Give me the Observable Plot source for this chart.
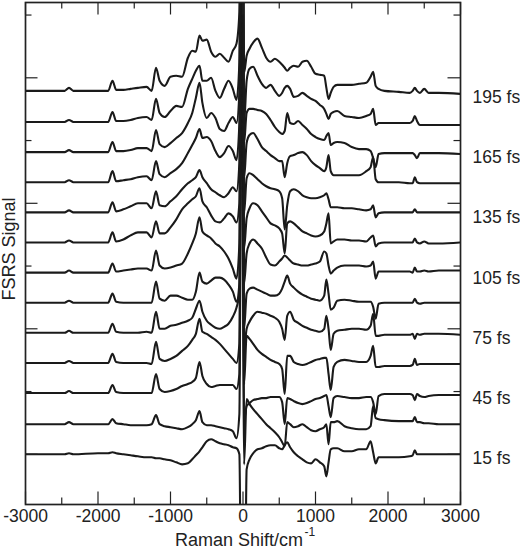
<!DOCTYPE html>
<html>
<head>
<meta charset="utf-8">
<script src="https://cdn.jsdelivr.net/npm/d3@7"></script>
<script src="https://cdn.jsdelivr.net/npm/@observablehq/plot@0.6"></script>
<style>
  html, body { margin: 0; padding: 0; background: #fff; }
  #chart svg { display: block; }
</style>
</head>
<body>
<div id="chart"></div>
<script>
// Raman shift grid (cm^-1) shared by all spectra
const shift = [-3000,-2600,-2460,-2400,-2340,-2000,-1860,-1800,-1750,-1650,
  -1550,-1450,-1330,-1260,-1200,-1150,-1080,-1000,-920,-840,
  -760,-700,-650,-600,-560,-500,-440,-380,-320,-260,
  -200,-140,-90,-50,-15,15,50,90,140,200,
  260,320,380,440,500,540,575,610,650,700,
  760,820,880,940,1000,1060,1120,1150,1180,1210,
  1250,1300,1400,1500,1600,1700,1760,1795,1830,1870,
  1950,2150,2300,2340,2370,2400,2440,2500,2560,2700,
  3000];

// time delays (fs), bottom to top
const delays = [15,30,45,60,75,90,105,120,135,150,165,180,195];
const labeled = [15,45,75,105,135,165,195];

// FSRS signal of each delay (arbitrary units)
const s15 = [0,0,0,1,0,1,1,2,1,0, -1,-2,-3,-3,-4,-4,-5,-6,-8,-10, -9,-5,-1,3,7,13,15,13,11,10, 9,7,6,0,-250,-250,-15,-5,1,5, 6,8,9,9,6,5,9,12,7,2, -2,-5,-8,-9,-5,-8,-12,-22,-8,5, 6,6,3,3,5,5,13,2,-9,-3, -3,-3,-2,-1,4,0,0,0,0,0, 0];
const s30 = [0,0,0,2,0,0,0,5,1,0, -1,-1,-1,0,9,0,-2,-3,-4,-5, -3,0,4,13,2,-1,-1,-2,-3,-4, -5,-7,-14,10,450,-40,25,20,15,10, 5,0,-4,-8,-13,-18,-22,2,0,-3, -2,0,-3,-6,-7,-5,-3,0,-20,2, 2,3,-2,-4,-5,-5,-2,18,6,5, 4,3,3,3,7,2,2,1,1,0, 0];
const s45 = [1,1,1,3,1,1,1,9,2,1, 1,1,1,1,20,5,2,3,5,8, 10,12,16,32,18,10,7,8,9,9, 9,9,5,20,450,-25,-12,-9,-6,-5, -4,-4,-3,-3,-3,-8,-30,-4,-5,-7, -9,-10,-9,-7,-5,-4,-2,-1,-12,-23, -4,-2,-3,-4,-4,-3,-3,-8,-20,-2, 0,0,0,-1,-6,0,-2,-3,-2,-1, -1];
const s60 = [1,1,1,3,1,1,1,10,2,1, 1,1,1,0,22,5,3,5,8,13, 18,24,30,45,32,30,27,24,20,15, 10,5,1,20,450,-20,28,25,20,14, 10,7,4,2,0,-5,-30,8,8,2, 0,-1,0,2,4,5,6,6,-10,-26, -3,2,4,3,2,2,8,18,-3,-3, -2,-2,-2,-1,5,-1,0,0,0,0, 0];
const s75 = [1,1,1,3,1,1,1,10,2,1, 1,1,2,1,22,5,5,8,9,11, 13,16,25,33,22,13,9,6,5,7, 10,17,26,40,450,-15,5,12,18,22, 21,20,18,16,12,5,-6,18,22,14, 11,8,6,4,3,2,5,18,5,-16, 0,3,4,5,5,4,8,20,-2,-2, -1,-1,-1,0,-5,0,-1,0,0,0, -1];
const s90 = [1,1,1,3,1,1,1,10,2,1, 1,1,1,1,22,5,3,8,8,6, 4,4,12,31,22,20,23,26,26,24, 19,12,2,20,450,-25,10,15,16,14, 12,10,8,8,10,15,22,28,20,16, 12,9,7,5,4,3,8,24,10,-6, -4,3,4,3,2,2,2,-3,-15,0, 1,1,1,1,5,1,0,1,1,1, 1];
const s105 = [1,1,1,3,1,1,1,10,2,3, 4,5,5,3,23,8,5,6,8,10, 20,30,40,56,42,38,35,30,27,22, 15,5,-5,30,450,-10,20,30,34,30, 25,16,9,8,12,15,18,16,13,10, 9,8,8,9,10,12,22,20,8,0, 3,6,8,8,8,7,8,12,-5,2, 2,2,2,1,6,2,2,3,2,3, 3];
const s120 = [1,1,1,3,1,1,1,11,2,4, 8,11,11,6,22,10,10,16,24,34, 40,44,47,55,42,36,28,22,21,25, 30,27,21,40,450,-5,25,35,40,38, 32,26,20,18,15,10,-10,20,22,20, 16,12,10,8,7,8,12,20,30,0, 2,4,4,3,3,2,6,8,-3,0, 1,1,1,1,5,1,0,2,0,0, 1];
const s135 = [1,1,1,3,1,1,1,11,2,4, 7,10,10,5,22,8,7,12,17,24, 30,33,36,43,36,30,24,21,18,16, 20,26,22,50,450,0,35,40,38,34, 30,27,25,24,22,15,-16,8,22,24, 22,18,16,15,15,16,18,20,14,6, 6,6,5,5,4,3,4,8,-4,0, 1,1,1,1,4,1,1,1,1,1, 1];
const s150 = [1,1,1,3,1,1,1,12,2,3, 4,6,7,3,22,9,6,10,14,20, 30,38,45,54,45,46,42,32,26,30, 37,32,23,60,450,5,40,48,50,44, 36,32,28,25,22,22,6,20,27,28, 30,31,28,22,18,15,12,16,28,12, 8,8,8,8,8,12,16,26,4,1, 1,1,0,0,6,1,0,0,0,0, 0];
const s165 = [1,1,1,3,1,1,1,11,2,2, 3,5,5,2,23,9,6,10,15,20, 30,40,55,70,50,35,40,35,24,22, 30,36,30,60,450,10,40,44,44,43, 42,39,33,26,21,19,22,40,30,29, 32,28,24,19,16,14,13,17,20,8, 10,11,10,6,4,4,2,-5,-14,-1, 0,0,0,0,-2,-5,0,0,0,0, -1];
const s180 = [1,1,1,3,1,1,1,11,2,2, 3,5,6,3,24,10,6,12,17,16, 34,44,52,57,42,42,45,32,25,34, 42,34,23,60,450,0,42,54,56,47, 39,35,38,32,27,30,35,37,34,26, 27,30,27,24,22,18,14,9,4,9, 11,12,7,6,5,7,9,14,-2,0, 0,0,0,2,7,2,-2,-2,-2,-2, -2];
const s195 = [2,2,2,5,2,2,2,12,3,3, 4,5,6,2,25,12,7,16,17,16, 35,42,41,57,52,53,41,36,39,35, 31,42,49,80,450,20,37,44,50,54, 45,35,31,34,31,28,25,22,25,27, 26,31,32,26,19,18,17,5,-6,0, 6,8,8,8,9,10,16,21,7,4, 2,1,0,2,5,2,0,4,0,0, -1];

const spectra = [s15,s30,s45,s60,s75,s90,s105,s120,s135,s150,s165,s180,s195];
const step = 30; // vertical offset between successive delays

// axis ticks
const xMajor = [-3000,-2000,-1000,0,1000,2000,3000];
const xMinor = [-2500,-1500,-500,500,1500,2500];
const yMajor = [0,125,250,375];
const yMinor = [62.5,187.5,312.5,437.5];

const rows = spectra.flatMap((s, i) => s.map((v, j) => ({x: shift[j], y: v + step * i, fs: delays[i]})));

const W = 520, H = 550, mL = 25, mR = 60, mT = 2, mB = 46;
const fw = W - mL - mR, fh = H - mT - mB;
const big = 12.5, small = 6.5;
const ink = "#222";

const chart = Plot.plot({
  width: W, height: H,
  marginLeft: mL, marginRight: mR, marginTop: mT, marginBottom: mB,
  x: {domain: [-3000, 3000]},
  y: {domain: [-50, 450], axis: null},
  style: {fontFamily: "'Liberation Sans', Arial, Helvetica, sans-serif", fontSize: "17px", background: "#fff", color: ink},
  marks: [
    Plot.line(rows, {x: "x", y: "y", z: "fs", curve: "monotone-x", clip: true,
      stroke: "#1a1a1a", strokeWidth: 2.1, strokeLinejoin: "round"}),
    // inward ticks, bottom & top
    Plot.tickX(xMajor, {x: d => d, insetTop: fh - big, stroke: ink, strokeWidth: 1.2}),
    Plot.tickX(xMinor, {x: d => d, insetTop: fh - small, stroke: ink, strokeWidth: 1.2}),
    Plot.tickX(xMajor, {x: d => d, insetBottom: fh - big, stroke: ink, strokeWidth: 1.2}),
    Plot.tickX(xMinor, {x: d => d, insetBottom: fh - small, stroke: ink, strokeWidth: 1.2}),
    // inward ticks, left & right
    Plot.tickY(yMajor, {y: d => d, insetRight: fw - big, stroke: ink, strokeWidth: 1.2}),
    Plot.tickY(yMinor, {y: d => d, insetRight: fw - small, stroke: ink, strokeWidth: 1.2}),
    Plot.tickY(yMajor, {y: d => d, insetLeft: fw - big, stroke: ink, strokeWidth: 1.2}),
    Plot.tickY(yMinor, {y: d => d, insetLeft: fw - small, stroke: ink, strokeWidth: 1.2}),
    Plot.frame({stroke: ink, strokeWidth: 1.7}),
    Plot.axisX({ticks: xMajor, tickSize: 0, tickPadding: 5, tickFormat: d => String(d), fontSize: 17.5, label: null}),
    Plot.text(labeled, {x: () => 3000, y: d => step * delays.indexOf(d), text: d => `${d} fs`,
      dx: 12, dy: 4.5, textAnchor: "start", lineAnchor: "middle", fontSize: 17.5, fill: ink}),
    Plot.text(["Raman Shift/cm"], {frameAnchor: "bottom", text: d => d, dx: -4, dy: 35.5,
      textAnchor: "middle", lineAnchor: "middle", fontSize: 18, fill: ink}),
    Plot.text(["-1"], {frameAnchor: "bottom", text: d => d, dx: 61.5, dy: 27.5,
      textAnchor: "start", lineAnchor: "middle", fontSize: 12, fill: ink}),
    Plot.text(["FSRS Signal"], {frameAnchor: "left", text: d => d, rotate: -90, dx: -16, dy: -4.5,
      textAnchor: "middle", lineAnchor: "middle", fontSize: 18, fill: ink})
  ]
});
document.getElementById("chart").appendChild(chart);
</script>
</body>
</html>
